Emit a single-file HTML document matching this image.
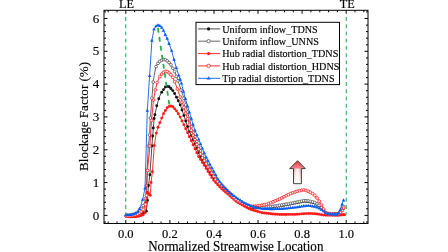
<!DOCTYPE html><html><head><meta charset="utf-8"><style>html,body{margin:0;padding:0;background:#fff;width:448px;height:252px;overflow:hidden}svg{display:block}</style></head><body><svg width="448" height="252" viewBox="0 0 448 252">
<defs><linearGradient id="ag" x1="0" y1="0" x2="0" y2="1"><stop offset="0" stop-color="#e63a44"/><stop offset="0.33" stop-color="#f0858b"/><stop offset="0.65" stop-color="#f8c4c6"/><stop offset="1" stop-color="#fff4f4"/></linearGradient><linearGradient id="ah" x1="0" y1="0" x2="1" y2="0"><stop offset="0" stop-color="#fff" stop-opacity="0.1"/><stop offset="0.5" stop-color="#fff" stop-opacity="1"/><stop offset="1" stop-color="#fff" stop-opacity="0.1"/></linearGradient></defs>
<rect width="448" height="252" fill="#fff"/>
<line x1="125.7" y1="17.0" x2="125.7" y2="214.5" stroke="#4cbb7a" stroke-width="1.3" stroke-dasharray="3.9,3.33"/>
<line x1="346.3" y1="17.0" x2="346.3" y2="214.5" stroke="#4cbb7a" stroke-width="1.3" stroke-dasharray="3.9,3.33"/>
<polyline points="126.2,215.7 132.0,215.5 137.0,214.7 141.0,213.3 144.0,212.3 146.3,211.2 147.5,200.5 148.5,185.5 149.9,174.8 151.9,146.0 152.3,141.6 152.7,136.0 153.3,128.0 154.1,118.5 154.9,114.7 156.8,105.8 158.8,98.7 160.8,93.5 163.2,90.3 164.7,87.3 166.3,86.5 168.3,86.2 169.9,87.4 171.9,89.5 173.9,91.9 175.6,95.5 178.2,100.5 179.4,103.2 180.9,106.6 188.5,129.2 200.3,156.3 215.0,180.0 237.0,199.5 250.0,207.5 258.0,207.9 268.0,207.6 280.0,205.9 292.0,203.7 304.0,201.3 308.0,201.5 314.7,203.0 319.1,205.8 322.5,209.5 326.0,213.3 330.0,214.1 338.0,214.1 341.0,212.0 343.6,208.5" fill="none" stroke="#383838" stroke-width="0.9" stroke-linejoin="round"/>
<g fill="#111111"><circle cx="126.2" cy="215.7" r="1.45"/><circle cx="127.8" cy="215.6" r="1.45"/><circle cx="129.4" cy="215.6" r="1.45"/><circle cx="131.0" cy="215.5" r="1.45"/><circle cx="132.6" cy="215.4" r="1.45"/><circle cx="134.2" cy="215.1" r="1.45"/><circle cx="135.8" cy="214.9" r="1.45"/><circle cx="137.6" cy="214.5" r="1.45"/><circle cx="139.5" cy="213.8" r="1.45"/><circle cx="141.3" cy="213.2" r="1.45"/><circle cx="143.2" cy="212.6" r="1.45"/><circle cx="146.3" cy="211.2" r="1.45"/><circle cx="147.5" cy="200.5" r="1.45"/><circle cx="148.5" cy="185.5" r="1.45"/><circle cx="149.9" cy="174.8" r="1.45"/><circle cx="151.9" cy="146.0" r="1.45"/><circle cx="152.7" cy="136.0" r="1.45"/><circle cx="153.3" cy="128.0" r="1.45"/><circle cx="154.1" cy="118.5" r="1.45"/><circle cx="154.9" cy="114.7" r="1.45"/><circle cx="156.8" cy="105.8" r="1.45"/><circle cx="158.8" cy="98.7" r="1.45"/><circle cx="161.7" cy="92.3" r="1.45"/><circle cx="163.5" cy="89.6" r="1.45"/><circle cx="165.4" cy="87.0" r="1.45"/><circle cx="167.2" cy="86.4" r="1.45"/><circle cx="169.1" cy="86.8" r="1.45"/><circle cx="170.9" cy="88.5" r="1.45"/><circle cx="172.8" cy="90.6" r="1.45"/><circle cx="174.6" cy="93.5" r="1.45"/><circle cx="176.5" cy="97.2" r="1.45"/><circle cx="178.3" cy="100.8" r="1.45"/><circle cx="180.2" cy="105.0" r="1.45"/><circle cx="182.0" cy="110.0" r="1.45"/><circle cx="183.9" cy="115.5" r="1.45"/><circle cx="185.7" cy="121.0" r="1.45"/><circle cx="187.6" cy="126.5" r="1.45"/><circle cx="189.4" cy="131.4" r="1.45"/><circle cx="191.3" cy="135.6" r="1.45"/><circle cx="193.1" cy="139.9" r="1.45"/><circle cx="195.0" cy="144.1" r="1.45"/><circle cx="196.8" cy="148.4" r="1.45"/><circle cx="198.7" cy="152.6" r="1.45"/><circle cx="200.5" cy="156.7" r="1.45"/><circle cx="202.4" cy="159.7" r="1.45"/><circle cx="204.3" cy="162.7" r="1.45"/><circle cx="206.2" cy="165.7" r="1.45"/><circle cx="208.0" cy="168.8" r="1.45"/><circle cx="209.9" cy="171.9" r="1.45"/><circle cx="211.9" cy="175.0" r="1.45"/><circle cx="213.8" cy="178.1" r="1.45"/><circle cx="215.7" cy="180.7" r="1.45"/><circle cx="217.7" cy="182.4" r="1.45"/><circle cx="219.7" cy="184.2" r="1.45"/><circle cx="221.7" cy="185.9" r="1.45"/><circle cx="223.7" cy="187.7" r="1.45"/><circle cx="225.7" cy="189.5" r="1.45"/><circle cx="227.7" cy="191.3" r="1.45"/><circle cx="229.8" cy="193.1" r="1.45"/><circle cx="231.8" cy="194.9" r="1.45"/><circle cx="233.9" cy="196.7" r="1.45"/><circle cx="236.0" cy="198.6" r="1.45"/><circle cx="238.1" cy="200.2" r="1.45"/><circle cx="240.2" cy="201.5" r="1.45"/><circle cx="242.3" cy="202.8" r="1.45"/><circle cx="244.5" cy="204.1" r="1.45"/><circle cx="246.6" cy="205.4" r="1.45"/><circle cx="248.8" cy="206.8" r="1.45"/><circle cx="251.0" cy="207.6" r="1.45"/><circle cx="253.2" cy="207.7" r="1.45"/><circle cx="255.4" cy="207.8" r="1.45"/><circle cx="257.6" cy="207.9" r="1.45"/><circle cx="259.8" cy="207.8" r="1.45"/><circle cx="262.0" cy="207.8" r="1.45"/><circle cx="264.2" cy="207.7" r="1.45"/><circle cx="266.4" cy="207.6" r="1.45"/><circle cx="268.6" cy="207.5" r="1.45"/><circle cx="270.8" cy="207.2" r="1.45"/><circle cx="273.0" cy="206.9" r="1.45"/><circle cx="275.2" cy="206.6" r="1.45"/><circle cx="277.4" cy="206.3" r="1.45"/><circle cx="279.6" cy="206.0" r="1.45"/><circle cx="281.8" cy="205.6" r="1.45"/><circle cx="284.0" cy="205.2" r="1.45"/><circle cx="286.2" cy="204.8" r="1.45"/><circle cx="288.4" cy="204.4" r="1.45"/><circle cx="290.6" cy="204.0" r="1.45"/><circle cx="292.8" cy="203.5" r="1.45"/><circle cx="295.0" cy="203.1" r="1.45"/><circle cx="297.2" cy="202.7" r="1.45"/><circle cx="299.4" cy="202.2" r="1.45"/><circle cx="301.6" cy="201.8" r="1.45"/><circle cx="303.8" cy="201.3" r="1.45"/><circle cx="306.0" cy="201.4" r="1.45"/><circle cx="308.2" cy="201.5" r="1.45"/><circle cx="310.4" cy="202.0" r="1.45"/><circle cx="312.6" cy="202.5" r="1.45"/><circle cx="314.8" cy="203.1" r="1.45"/><circle cx="317.0" cy="204.5" r="1.45"/><circle cx="319.2" cy="205.9" r="1.45"/><circle cx="321.4" cy="208.3" r="1.45"/><circle cx="323.6" cy="210.7" r="1.45"/><circle cx="325.8" cy="213.1" r="1.45"/><circle cx="328.0" cy="213.7" r="1.45"/><circle cx="330.2" cy="214.1" r="1.45"/><circle cx="332.4" cy="214.1" r="1.45"/><circle cx="334.0" cy="214.1" r="1.45"/><circle cx="335.6" cy="214.1" r="1.45"/><circle cx="337.2" cy="214.1" r="1.45"/><circle cx="338.8" cy="213.5" r="1.45"/><circle cx="340.4" cy="212.4" r="1.45"/><circle cx="342.0" cy="210.6" r="1.45"/><circle cx="343.6" cy="208.5" r="1.45"/></g>
<polyline points="126.2,215.5 131.0,215.1 135.0,214.1 138.0,212.7 140.5,210.0 142.5,207.0 144.2,203.5 145.5,198.5 146.5,185.5 147.1,170.5 148.3,146.0 149.6,135.0 150.4,118.0 151.9,98.2 153.2,82.0 154.2,75.6 155.4,69.0 156.5,65.5 158.1,63.1 159.8,61.3 161.9,60.1 164.0,59.3 166.1,60.1 167.9,61.3 169.4,62.9 170.8,64.5 172.0,66.7 173.2,69.0 174.7,71.5 178.1,80.8 181.0,90.0 184.5,100.0 192.0,129.2 202.7,156.3 216.5,180.0 237.0,200.5 250.0,207.0 258.0,207.3 268.0,207.0 280.0,205.3 292.0,203.1 304.0,200.7 308.0,200.9 314.7,202.4 319.1,205.2 322.5,209.0 326.0,212.8 330.0,213.9 338.0,213.9 340.5,211.5 342.5,208.0 343.6,206.5" fill="none" stroke="#555555" stroke-width="0.9" stroke-linejoin="round"/>
<g fill="#fff" stroke="#555555" stroke-width="0.8"><circle cx="126.2" cy="215.5" r="1.4"/><circle cx="127.8" cy="215.4" r="1.4"/><circle cx="129.4" cy="215.2" r="1.4"/><circle cx="131.0" cy="215.1" r="1.4"/><circle cx="132.6" cy="214.7" r="1.4"/><circle cx="134.2" cy="214.3" r="1.4"/><circle cx="135.8" cy="213.7" r="1.4"/><circle cx="137.6" cy="212.9" r="1.4"/><circle cx="139.5" cy="211.1" r="1.4"/><circle cx="141.3" cy="208.7" r="1.4"/><circle cx="143.2" cy="205.6" r="1.4"/><circle cx="145.5" cy="198.5" r="1.4"/><circle cx="146.5" cy="185.5" r="1.4"/><circle cx="147.1" cy="170.5" r="1.4"/><circle cx="148.3" cy="146.0" r="1.4"/><circle cx="149.6" cy="135.0" r="1.4"/><circle cx="150.4" cy="118.0" r="1.4"/><circle cx="151.9" cy="98.2" r="1.4"/><circle cx="153.2" cy="82.0" r="1.4"/><circle cx="156.1" cy="66.6" r="1.4"/><circle cx="158.0" cy="63.3" r="1.4"/><circle cx="159.8" cy="61.3" r="1.4"/><circle cx="161.7" cy="60.2" r="1.4"/><circle cx="163.5" cy="59.5" r="1.4"/><circle cx="165.4" cy="59.8" r="1.4"/><circle cx="167.2" cy="60.9" r="1.4"/><circle cx="169.1" cy="62.6" r="1.4"/><circle cx="170.9" cy="64.8" r="1.4"/><circle cx="172.8" cy="68.2" r="1.4"/><circle cx="174.6" cy="71.4" r="1.4"/><circle cx="176.5" cy="76.4" r="1.4"/><circle cx="178.1" cy="80.8" r="1.4"/><circle cx="181.0" cy="90.0" r="1.4"/><circle cx="183.9" cy="98.3" r="1.4"/><circle cx="185.7" cy="104.9" r="1.4"/><circle cx="187.6" cy="112.1" r="1.4"/><circle cx="189.4" cy="119.3" r="1.4"/><circle cx="191.3" cy="126.5" r="1.4"/><circle cx="193.1" cy="132.1" r="1.4"/><circle cx="195.0" cy="136.8" r="1.4"/><circle cx="196.8" cy="141.5" r="1.4"/><circle cx="198.7" cy="146.2" r="1.4"/><circle cx="200.5" cy="150.9" r="1.4"/><circle cx="202.4" cy="155.5" r="1.4"/><circle cx="204.3" cy="159.0" r="1.4"/><circle cx="206.2" cy="162.2" r="1.4"/><circle cx="208.0" cy="165.5" r="1.4"/><circle cx="209.9" cy="168.8" r="1.4"/><circle cx="211.9" cy="172.0" r="1.4"/><circle cx="213.8" cy="175.4" r="1.4"/><circle cx="215.7" cy="178.7" r="1.4"/><circle cx="217.7" cy="181.2" r="1.4"/><circle cx="219.7" cy="183.2" r="1.4"/><circle cx="221.7" cy="185.2" r="1.4"/><circle cx="223.7" cy="187.2" r="1.4"/><circle cx="225.7" cy="189.2" r="1.4"/><circle cx="227.7" cy="191.2" r="1.4"/><circle cx="229.8" cy="193.3" r="1.4"/><circle cx="231.8" cy="195.3" r="1.4"/><circle cx="233.9" cy="197.4" r="1.4"/><circle cx="236.0" cy="199.5" r="1.4"/><circle cx="238.1" cy="201.0" r="1.4"/><circle cx="240.2" cy="202.1" r="1.4"/><circle cx="242.3" cy="203.2" r="1.4"/><circle cx="244.5" cy="204.2" r="1.4"/><circle cx="246.6" cy="205.3" r="1.4"/><circle cx="248.8" cy="206.4" r="1.4"/><circle cx="251.0" cy="207.0" r="1.4"/><circle cx="253.2" cy="207.1" r="1.4"/><circle cx="255.4" cy="207.2" r="1.4"/><circle cx="257.6" cy="207.3" r="1.4"/><circle cx="259.8" cy="207.2" r="1.4"/><circle cx="262.0" cy="207.2" r="1.4"/><circle cx="264.2" cy="207.1" r="1.4"/><circle cx="266.4" cy="207.0" r="1.4"/><circle cx="268.6" cy="206.9" r="1.4"/><circle cx="270.8" cy="206.6" r="1.4"/><circle cx="273.0" cy="206.3" r="1.4"/><circle cx="275.2" cy="206.0" r="1.4"/><circle cx="277.4" cy="205.7" r="1.4"/><circle cx="279.6" cy="205.4" r="1.4"/><circle cx="281.8" cy="205.0" r="1.4"/><circle cx="284.0" cy="204.6" r="1.4"/><circle cx="286.2" cy="204.2" r="1.4"/><circle cx="288.4" cy="203.8" r="1.4"/><circle cx="290.6" cy="203.4" r="1.4"/><circle cx="292.8" cy="202.9" r="1.4"/><circle cx="295.0" cy="202.5" r="1.4"/><circle cx="297.2" cy="202.1" r="1.4"/><circle cx="299.4" cy="201.6" r="1.4"/><circle cx="301.6" cy="201.2" r="1.4"/><circle cx="303.8" cy="200.7" r="1.4"/><circle cx="306.0" cy="200.8" r="1.4"/><circle cx="308.2" cy="200.9" r="1.4"/><circle cx="310.4" cy="201.4" r="1.4"/><circle cx="312.6" cy="201.9" r="1.4"/><circle cx="314.8" cy="202.5" r="1.4"/><circle cx="317.0" cy="203.9" r="1.4"/><circle cx="319.2" cy="205.3" r="1.4"/><circle cx="321.4" cy="207.8" r="1.4"/><circle cx="323.6" cy="210.2" r="1.4"/><circle cx="325.8" cy="212.6" r="1.4"/><circle cx="328.0" cy="213.4" r="1.4"/><circle cx="330.2" cy="213.9" r="1.4"/><circle cx="332.4" cy="213.9" r="1.4"/><circle cx="334.0" cy="213.9" r="1.4"/><circle cx="335.6" cy="213.9" r="1.4"/><circle cx="337.2" cy="213.9" r="1.4"/><circle cx="338.8" cy="213.1" r="1.4"/><circle cx="340.4" cy="211.6" r="1.4"/><circle cx="342.0" cy="208.9" r="1.4"/><circle cx="343.6" cy="206.5" r="1.4"/></g>
<polyline points="126.2,216.5 131.1,216.9 135.9,216.7 139.5,216.1 143.0,214.9 145.4,212.5 146.0,208.4 146.6,202.4 147.3,192.3 150.2,195.2 151.1,182.5 152.4,171.8 154.3,145.5 156.3,133.1 158.3,126.3 160.7,120.8 162.8,115.1 165.1,110.9 167.5,107.3 169.9,105.9 172.1,106.1 174.2,108.1 176.4,110.8 178.3,113.7 180.4,117.5 183.1,123.0 186.1,129.4 198.5,156.3 213.3,179.7 217.6,184.7 222.0,189.0 237.0,202.1 245.8,206.9 250.0,209.3 262.0,212.7 274.0,214.1 280.0,214.5 295.0,214.4 302.0,213.9 310.0,213.4 318.0,214.1 325.0,215.3 338.0,215.3 341.9,214.8 344.5,214.8" fill="none" stroke="#ff1a1a" stroke-width="0.9" stroke-linejoin="round"/>
<g fill="#ff1a1a"><circle cx="126.2" cy="216.5" r="1.45"/><circle cx="127.8" cy="216.6" r="1.45"/><circle cx="129.4" cy="216.8" r="1.45"/><circle cx="131.0" cy="216.9" r="1.45"/><circle cx="132.6" cy="216.8" r="1.45"/><circle cx="134.2" cy="216.8" r="1.45"/><circle cx="135.8" cy="216.7" r="1.45"/><circle cx="137.6" cy="216.4" r="1.45"/><circle cx="139.5" cy="216.1" r="1.45"/><circle cx="141.3" cy="215.5" r="1.45"/><circle cx="143.2" cy="214.7" r="1.45"/><circle cx="145.0" cy="212.9" r="1.45"/><circle cx="146.6" cy="202.4" r="1.45"/><circle cx="147.3" cy="192.3" r="1.45"/><circle cx="148.7" cy="193.7" r="1.45"/><circle cx="150.2" cy="195.2" r="1.45"/><circle cx="151.1" cy="182.5" r="1.45"/><circle cx="152.4" cy="171.8" r="1.45"/><circle cx="154.3" cy="145.5" r="1.45"/><circle cx="156.3" cy="133.1" r="1.45"/><circle cx="158.0" cy="127.3" r="1.45"/><circle cx="159.8" cy="122.7" r="1.45"/><circle cx="161.7" cy="118.1" r="1.45"/><circle cx="163.5" cy="113.7" r="1.45"/><circle cx="165.4" cy="110.5" r="1.45"/><circle cx="167.2" cy="107.7" r="1.45"/><circle cx="169.1" cy="106.4" r="1.45"/><circle cx="170.9" cy="106.0" r="1.45"/><circle cx="172.8" cy="106.8" r="1.45"/><circle cx="174.6" cy="108.7" r="1.45"/><circle cx="176.5" cy="111.0" r="1.45"/><circle cx="178.3" cy="113.8" r="1.45"/><circle cx="180.2" cy="117.1" r="1.45"/><circle cx="182.0" cy="120.9" r="1.45"/><circle cx="183.9" cy="124.7" r="1.45"/><circle cx="185.7" cy="128.7" r="1.45"/><circle cx="187.6" cy="132.7" r="1.45"/><circle cx="189.4" cy="136.7" r="1.45"/><circle cx="191.3" cy="140.7" r="1.45"/><circle cx="193.1" cy="144.7" r="1.45"/><circle cx="195.0" cy="148.7" r="1.45"/><circle cx="196.8" cy="152.7" r="1.45"/><circle cx="198.7" cy="156.6" r="1.45"/><circle cx="200.5" cy="159.5" r="1.45"/><circle cx="202.4" cy="162.5" r="1.45"/><circle cx="204.3" cy="165.4" r="1.45"/><circle cx="206.2" cy="168.4" r="1.45"/><circle cx="208.0" cy="171.4" r="1.45"/><circle cx="209.9" cy="174.4" r="1.45"/><circle cx="211.9" cy="177.4" r="1.45"/><circle cx="213.8" cy="180.3" r="1.45"/><circle cx="215.7" cy="182.5" r="1.45"/><circle cx="217.7" cy="184.8" r="1.45"/><circle cx="219.7" cy="186.7" r="1.45"/><circle cx="221.7" cy="188.7" r="1.45"/><circle cx="223.7" cy="190.5" r="1.45"/><circle cx="225.7" cy="192.2" r="1.45"/><circle cx="227.7" cy="194.0" r="1.45"/><circle cx="229.8" cy="195.8" r="1.45"/><circle cx="231.8" cy="197.6" r="1.45"/><circle cx="233.9" cy="199.4" r="1.45"/><circle cx="236.0" cy="201.2" r="1.45"/><circle cx="238.1" cy="202.7" r="1.45"/><circle cx="240.2" cy="203.8" r="1.45"/><circle cx="242.3" cy="205.0" r="1.45"/><circle cx="244.5" cy="206.2" r="1.45"/><circle cx="246.6" cy="207.4" r="1.45"/><circle cx="248.8" cy="208.6" r="1.45"/><circle cx="251.0" cy="209.6" r="1.45"/><circle cx="253.2" cy="210.2" r="1.45"/><circle cx="255.4" cy="210.8" r="1.45"/><circle cx="257.6" cy="211.5" r="1.45"/><circle cx="259.8" cy="212.1" r="1.45"/><circle cx="262.0" cy="212.7" r="1.45"/><circle cx="264.2" cy="213.0" r="1.45"/><circle cx="266.4" cy="213.2" r="1.45"/><circle cx="268.6" cy="213.5" r="1.45"/><circle cx="270.8" cy="213.7" r="1.45"/><circle cx="273.0" cy="214.0" r="1.45"/><circle cx="275.2" cy="214.2" r="1.45"/><circle cx="277.4" cy="214.3" r="1.45"/><circle cx="279.6" cy="214.5" r="1.45"/><circle cx="281.8" cy="214.5" r="1.45"/><circle cx="284.0" cy="214.5" r="1.45"/><circle cx="286.2" cy="214.5" r="1.45"/><circle cx="288.4" cy="214.4" r="1.45"/><circle cx="290.6" cy="214.4" r="1.45"/><circle cx="292.8" cy="214.4" r="1.45"/><circle cx="295.0" cy="214.4" r="1.45"/><circle cx="297.2" cy="214.2" r="1.45"/><circle cx="299.4" cy="214.1" r="1.45"/><circle cx="301.6" cy="213.9" r="1.45"/><circle cx="303.8" cy="213.8" r="1.45"/><circle cx="306.0" cy="213.6" r="1.45"/><circle cx="308.2" cy="213.5" r="1.45"/><circle cx="310.4" cy="213.4" r="1.45"/><circle cx="312.6" cy="213.6" r="1.45"/><circle cx="314.8" cy="213.8" r="1.45"/><circle cx="317.0" cy="214.0" r="1.45"/><circle cx="319.2" cy="214.3" r="1.45"/><circle cx="321.4" cy="214.7" r="1.45"/><circle cx="323.6" cy="215.1" r="1.45"/><circle cx="325.8" cy="215.3" r="1.45"/><circle cx="328.0" cy="215.3" r="1.45"/><circle cx="330.2" cy="215.3" r="1.45"/><circle cx="332.4" cy="215.3" r="1.45"/><circle cx="334.0" cy="215.3" r="1.45"/><circle cx="335.6" cy="215.3" r="1.45"/><circle cx="337.2" cy="215.3" r="1.45"/><circle cx="338.8" cy="215.2" r="1.45"/><circle cx="340.4" cy="215.0" r="1.45"/><circle cx="342.0" cy="214.8" r="1.45"/><circle cx="343.6" cy="214.8" r="1.45"/><circle cx="344.5" cy="214.8" r="1.45"/></g>
<polyline points="126.2,216.0 131.0,215.7 135.0,215.0 138.0,214.0 140.0,213.0 142.0,211.0 144.0,208.5 145.5,204.5 146.5,195.5 147.5,170.5 149.9,146.0 151.5,120.4 153.5,100.0 155.4,89.9 157.2,82.5 158.9,78.5 160.1,76.2 161.9,73.8 163.7,72.2 165.5,71.4 167.3,71.6 169.0,72.8 170.8,74.6 172.6,76.8 174.0,80.1 177.4,88.9 180.1,97.0 182.8,104.0 190.9,129.2 201.5,156.3 216.0,180.0 237.0,200.5 250.0,206.5 259.5,205.8 268.0,203.9 280.0,198.9 286.0,195.7 292.0,193.0 298.0,191.0 303.8,189.9 308.0,191.1 313.6,194.1 318.0,199.1 321.3,204.7 324.1,209.9 326.0,213.5 330.0,214.1 338.0,214.1 341.0,212.0 343.6,208.0" fill="none" stroke="#ff1a1a" stroke-width="0.9" stroke-linejoin="round"/>
<g fill="#fff" stroke="#ff1a1a" stroke-width="0.8"><circle cx="126.2" cy="216.0" r="1.4"/><circle cx="127.8" cy="215.9" r="1.4"/><circle cx="129.4" cy="215.8" r="1.4"/><circle cx="131.0" cy="215.7" r="1.4"/><circle cx="132.6" cy="215.4" r="1.4"/><circle cx="134.2" cy="215.1" r="1.4"/><circle cx="135.8" cy="214.7" r="1.4"/><circle cx="137.6" cy="214.1" r="1.4"/><circle cx="139.5" cy="213.2" r="1.4"/><circle cx="141.3" cy="211.7" r="1.4"/><circle cx="143.2" cy="209.5" r="1.4"/><circle cx="145.5" cy="204.5" r="1.4"/><circle cx="146.5" cy="195.5" r="1.4"/><circle cx="147.5" cy="170.5" r="1.4"/><circle cx="149.9" cy="146.0" r="1.4"/><circle cx="151.5" cy="120.4" r="1.4"/><circle cx="153.5" cy="100.0" r="1.4"/><circle cx="155.4" cy="89.9" r="1.4"/><circle cx="157.2" cy="82.5" r="1.4"/><circle cx="159.8" cy="76.7" r="1.4"/><circle cx="161.7" cy="74.1" r="1.4"/><circle cx="163.5" cy="72.3" r="1.4"/><circle cx="165.4" cy="71.4" r="1.4"/><circle cx="167.2" cy="71.6" r="1.4"/><circle cx="169.1" cy="72.9" r="1.4"/><circle cx="170.9" cy="74.8" r="1.4"/><circle cx="172.8" cy="77.3" r="1.4"/><circle cx="174.6" cy="81.8" r="1.4"/><circle cx="177.4" cy="88.9" r="1.4"/><circle cx="180.1" cy="97.0" r="1.4"/><circle cx="182.0" cy="102.1" r="1.4"/><circle cx="183.9" cy="107.4" r="1.4"/><circle cx="185.7" cy="113.2" r="1.4"/><circle cx="187.6" cy="118.9" r="1.4"/><circle cx="189.4" cy="124.7" r="1.4"/><circle cx="191.3" cy="130.2" r="1.4"/><circle cx="193.1" cy="135.0" r="1.4"/><circle cx="195.0" cy="139.7" r="1.4"/><circle cx="196.8" cy="144.4" r="1.4"/><circle cx="198.7" cy="149.1" r="1.4"/><circle cx="200.5" cy="153.9" r="1.4"/><circle cx="202.4" cy="157.8" r="1.4"/><circle cx="204.3" cy="160.8" r="1.4"/><circle cx="206.2" cy="163.9" r="1.4"/><circle cx="208.0" cy="167.0" r="1.4"/><circle cx="209.9" cy="170.1" r="1.4"/><circle cx="211.9" cy="173.2" r="1.4"/><circle cx="213.8" cy="176.4" r="1.4"/><circle cx="215.7" cy="179.6" r="1.4"/><circle cx="217.7" cy="181.7" r="1.4"/><circle cx="219.7" cy="183.6" r="1.4"/><circle cx="221.7" cy="185.5" r="1.4"/><circle cx="223.7" cy="187.5" r="1.4"/><circle cx="225.7" cy="189.5" r="1.4"/><circle cx="227.7" cy="191.4" r="1.4"/><circle cx="229.8" cy="193.4" r="1.4"/><circle cx="231.8" cy="195.4" r="1.4"/><circle cx="233.9" cy="197.5" r="1.4"/><circle cx="236.0" cy="199.5" r="1.4"/><circle cx="238.1" cy="201.0" r="1.4"/><circle cx="240.2" cy="202.0" r="1.4"/><circle cx="242.3" cy="203.0" r="1.4"/><circle cx="244.5" cy="204.0" r="1.4"/><circle cx="246.6" cy="204.9" r="1.4"/><circle cx="248.8" cy="206.0" r="1.4"/><circle cx="251.0" cy="206.4" r="1.4"/><circle cx="253.2" cy="206.3" r="1.4"/><circle cx="255.4" cy="206.1" r="1.4"/><circle cx="257.6" cy="205.9" r="1.4"/><circle cx="259.8" cy="205.7" r="1.4"/><circle cx="262.0" cy="205.2" r="1.4"/><circle cx="264.2" cy="204.7" r="1.4"/><circle cx="266.4" cy="204.3" r="1.4"/><circle cx="268.6" cy="203.6" r="1.4"/><circle cx="270.8" cy="202.7" r="1.4"/><circle cx="273.0" cy="201.8" r="1.4"/><circle cx="275.2" cy="200.9" r="1.4"/><circle cx="277.4" cy="200.0" r="1.4"/><circle cx="279.6" cy="199.1" r="1.4"/><circle cx="281.8" cy="197.9" r="1.4"/><circle cx="284.0" cy="196.8" r="1.4"/><circle cx="286.2" cy="195.6" r="1.4"/><circle cx="288.4" cy="194.6" r="1.4"/><circle cx="290.6" cy="193.6" r="1.4"/><circle cx="292.8" cy="192.7" r="1.4"/><circle cx="295.0" cy="192.0" r="1.4"/><circle cx="297.2" cy="191.3" r="1.4"/><circle cx="299.4" cy="190.7" r="1.4"/><circle cx="301.6" cy="190.3" r="1.4"/><circle cx="303.8" cy="189.9" r="1.4"/><circle cx="306.0" cy="190.5" r="1.4"/><circle cx="308.2" cy="191.2" r="1.4"/><circle cx="310.4" cy="192.4" r="1.4"/><circle cx="312.6" cy="193.6" r="1.4"/><circle cx="314.8" cy="195.5" r="1.4"/><circle cx="317.0" cy="198.0" r="1.4"/><circle cx="319.2" cy="201.1" r="1.4"/><circle cx="321.4" cy="204.9" r="1.4"/><circle cx="323.6" cy="209.0" r="1.4"/><circle cx="325.8" cy="213.1" r="1.4"/><circle cx="328.0" cy="213.8" r="1.4"/><circle cx="330.2" cy="214.1" r="1.4"/><circle cx="332.4" cy="214.1" r="1.4"/><circle cx="334.0" cy="214.1" r="1.4"/><circle cx="335.6" cy="214.1" r="1.4"/><circle cx="337.2" cy="214.1" r="1.4"/><circle cx="338.8" cy="213.5" r="1.4"/><circle cx="340.4" cy="212.4" r="1.4"/><circle cx="342.0" cy="210.5" r="1.4"/><circle cx="343.6" cy="208.0" r="1.4"/></g>
<polyline points="126.2,215.1 131.7,214.7 134.7,213.7 137.1,212.5 138.9,210.1 140.7,206.0 142.6,199.7 145.0,188.3 147.3,110.7 149.6,76.0 151.9,40.6 154.0,29.2 156.3,26.0 158.5,25.0 160.9,26.5 163.0,29.5 165.1,34.2 167.3,38.8 169.4,44.6 171.6,50.7 174.0,59.6 176.3,68.0 178.8,75.4 181.5,83.5 183.5,91.6 185.5,99.0 186.9,104.0 194.5,129.2 205.6,156.3 218.6,180.3 222.5,185.5 227.0,190.3 231.0,194.0 237.0,198.1 244.0,203.0 252.0,206.3 262.0,208.7 272.0,209.1 280.0,208.9 290.0,208.1 297.0,207.2 304.0,206.1 308.0,205.7 316.0,206.8 322.5,210.3 326.8,213.7 332.0,214.3 337.9,214.3 339.9,211.2 341.5,206.0 342.7,202.1 343.6,200.3" fill="none" stroke="#0b5ef2" stroke-width="0.9" stroke-linejoin="round"/>
<g fill="#0b5ef2"><path d="M126.2,213.1l1.8,3.1h-3.6z"/><path d="M127.8,213.0l1.8,3.1h-3.6z"/><path d="M129.4,212.9l1.8,3.1h-3.6z"/><path d="M131.0,212.8l1.8,3.1h-3.6z"/><path d="M132.6,212.4l1.8,3.1h-3.6z"/><path d="M134.2,211.9l1.8,3.1h-3.6z"/><path d="M135.8,211.2l1.8,3.1h-3.6z"/><path d="M137.6,209.8l1.8,3.1h-3.6z"/><path d="M139.5,206.7l1.8,3.1h-3.6z"/><path d="M142.6,197.7l1.8,3.1h-3.6z"/><path d="M145.0,186.3l1.8,3.1h-3.6z"/><path d="M147.3,108.7l1.8,3.1h-3.6z"/><path d="M149.6,74.0l1.8,3.1h-3.6z"/><path d="M151.9,38.6l1.8,3.1h-3.6z"/><path d="M154.0,27.2l1.8,3.1h-3.6z"/><path d="M156.1,24.2l1.8,3.1h-3.6z"/><path d="M158.0,23.2l1.8,3.1h-3.6z"/><path d="M159.8,23.8l1.8,3.1h-3.6z"/><path d="M161.7,25.6l1.8,3.1h-3.6z"/><path d="M163.5,28.7l1.8,3.1h-3.6z"/><path d="M165.4,32.8l1.8,3.1h-3.6z"/><path d="M167.2,36.7l1.8,3.1h-3.6z"/><path d="M169.1,41.8l1.8,3.1h-3.6z"/><path d="M171.6,48.7l1.8,3.1h-3.6z"/><path d="M174.0,57.6l1.8,3.1h-3.6z"/><path d="M176.3,66.0l1.8,3.1h-3.6z"/><path d="M178.8,73.4l1.8,3.1h-3.6z"/><path d="M180.2,77.6l1.8,3.1h-3.6z"/><path d="M181.5,81.5l1.8,3.1h-3.6z"/><path d="M183.5,89.6l1.8,3.1h-3.6z"/><path d="M185.5,97.0l1.8,3.1h-3.6z"/><path d="M187.6,104.3l1.8,3.1h-3.6z"/><path d="M189.4,110.5l1.8,3.1h-3.6z"/><path d="M191.3,116.6l1.8,3.1h-3.6z"/><path d="M193.1,122.7l1.8,3.1h-3.6z"/><path d="M195.0,128.4l1.8,3.1h-3.6z"/><path d="M196.8,132.9l1.8,3.1h-3.6z"/><path d="M198.7,137.5l1.8,3.1h-3.6z"/><path d="M200.5,142.0l1.8,3.1h-3.6z"/><path d="M202.4,146.5l1.8,3.1h-3.6z"/><path d="M204.3,151.1l1.8,3.1h-3.6z"/><path d="M206.2,155.3l1.8,3.1h-3.6z"/><path d="M208.0,158.8l1.8,3.1h-3.6z"/><path d="M209.9,162.3l1.8,3.1h-3.6z"/><path d="M211.9,165.9l1.8,3.1h-3.6z"/><path d="M213.8,169.4l1.8,3.1h-3.6z"/><path d="M215.7,173.0l1.8,3.1h-3.6z"/><path d="M217.7,176.7l1.8,3.1h-3.6z"/><path d="M219.7,179.7l1.8,3.1h-3.6z"/><path d="M221.7,182.4l1.8,3.1h-3.6z"/><path d="M223.7,184.8l1.8,3.1h-3.6z"/><path d="M225.7,186.9l1.8,3.1h-3.6z"/><path d="M227.7,189.0l1.8,3.1h-3.6z"/><path d="M229.8,190.9l1.8,3.1h-3.6z"/><path d="M231.8,192.6l1.8,3.1h-3.6z"/><path d="M233.9,194.0l1.8,3.1h-3.6z"/><path d="M236.0,195.4l1.8,3.1h-3.6z"/><path d="M238.1,196.9l1.8,3.1h-3.6z"/><path d="M240.2,198.3l1.8,3.1h-3.6z"/><path d="M242.3,199.8l1.8,3.1h-3.6z"/><path d="M244.5,201.2l1.8,3.1h-3.6z"/><path d="M246.6,202.1l1.8,3.1h-3.6z"/><path d="M248.8,203.0l1.8,3.1h-3.6z"/><path d="M251.0,203.9l1.8,3.1h-3.6z"/><path d="M253.2,204.6l1.8,3.1h-3.6z"/><path d="M255.4,205.1l1.8,3.1h-3.6z"/><path d="M257.6,205.6l1.8,3.1h-3.6z"/><path d="M259.8,206.2l1.8,3.1h-3.6z"/><path d="M262.0,206.7l1.8,3.1h-3.6z"/><path d="M264.2,206.8l1.8,3.1h-3.6z"/><path d="M266.4,206.9l1.8,3.1h-3.6z"/><path d="M268.6,207.0l1.8,3.1h-3.6z"/><path d="M270.8,207.1l1.8,3.1h-3.6z"/><path d="M273.0,207.1l1.8,3.1h-3.6z"/><path d="M275.2,207.0l1.8,3.1h-3.6z"/><path d="M277.4,207.0l1.8,3.1h-3.6z"/><path d="M279.6,206.9l1.8,3.1h-3.6z"/><path d="M281.8,206.8l1.8,3.1h-3.6z"/><path d="M284.0,206.6l1.8,3.1h-3.6z"/><path d="M286.2,206.4l1.8,3.1h-3.6z"/><path d="M288.4,206.2l1.8,3.1h-3.6z"/><path d="M290.6,206.0l1.8,3.1h-3.6z"/><path d="M292.8,205.7l1.8,3.1h-3.6z"/><path d="M295.0,205.5l1.8,3.1h-3.6z"/><path d="M297.2,205.2l1.8,3.1h-3.6z"/><path d="M299.4,204.8l1.8,3.1h-3.6z"/><path d="M301.6,204.5l1.8,3.1h-3.6z"/><path d="M303.8,204.1l1.8,3.1h-3.6z"/><path d="M306.0,203.9l1.8,3.1h-3.6z"/><path d="M308.2,203.7l1.8,3.1h-3.6z"/><path d="M310.4,204.0l1.8,3.1h-3.6z"/><path d="M312.6,204.3l1.8,3.1h-3.6z"/><path d="M314.8,204.6l1.8,3.1h-3.6z"/><path d="M317.0,205.3l1.8,3.1h-3.6z"/><path d="M319.2,206.5l1.8,3.1h-3.6z"/><path d="M321.4,207.7l1.8,3.1h-3.6z"/><path d="M323.6,209.2l1.8,3.1h-3.6z"/><path d="M325.8,210.9l1.8,3.1h-3.6z"/><path d="M328.0,211.8l1.8,3.1h-3.6z"/><path d="M330.2,212.1l1.8,3.1h-3.6z"/><path d="M332.4,212.3l1.8,3.1h-3.6z"/><path d="M334.0,212.3l1.8,3.1h-3.6z"/><path d="M335.6,212.3l1.8,3.1h-3.6z"/><path d="M337.2,212.3l1.8,3.1h-3.6z"/><path d="M338.8,210.9l1.8,3.1h-3.6z"/><path d="M340.4,207.6l1.8,3.1h-3.6z"/><path d="M342.0,202.4l1.8,3.1h-3.6z"/><path d="M343.6,198.3l1.8,3.1h-3.6z"/></g>
<line x1="157.9" y1="27.9" x2="169.3" y2="104.4" stroke="#22b14c" stroke-width="1.8" stroke-dasharray="4.7,4.4"/>
<rect x="104.0" y="10.3" width="264.0" height="213.2" fill="none" stroke="#000" stroke-width="1"/>
<path d="M108.2,223.5v-2M108.2,10.3v2M117.0,223.5v-2M117.0,10.3v2M125.8,223.5v-3.5M125.8,10.3v3.5M134.6,223.5v-2M134.6,10.3v2M143.4,223.5v-2M143.4,10.3v2M152.2,223.5v-2M152.2,10.3v2M161.1,223.5v-2M161.1,10.3v2M169.9,223.5v-3.5M169.9,10.3v3.5M178.7,223.5v-2M178.7,10.3v2M187.5,223.5v-2M187.5,10.3v2M196.3,223.5v-2M196.3,10.3v2M205.1,223.5v-2M205.1,10.3v2M214.0,223.5v-3.5M214.0,10.3v3.5M222.8,223.5v-2M222.8,10.3v2M231.6,223.5v-2M231.6,10.3v2M240.4,223.5v-2M240.4,10.3v2M249.2,223.5v-2M249.2,10.3v2M258.0,223.5v-3.5M258.0,10.3v3.5M266.9,223.5v-2M266.9,10.3v2M275.7,223.5v-2M275.7,10.3v2M284.5,223.5v-2M284.5,10.3v2M293.3,223.5v-2M293.3,10.3v2M302.1,223.5v-3.5M302.1,10.3v3.5M310.9,223.5v-2M310.9,10.3v2M319.8,223.5v-2M319.8,10.3v2M328.6,223.5v-2M328.6,10.3v2M337.4,223.5v-2M337.4,10.3v2M346.2,223.5v-3.5M346.2,10.3v3.5M355.0,223.5v-2M355.0,10.3v2M363.8,223.5v-2M363.8,10.3v2M104.0,222.0h2M368.0,222.0h-2M104.0,215.4h3.5M368.0,215.4h-3.5M104.0,208.8h2M368.0,208.8h-2M104.0,202.3h2M368.0,202.3h-2M104.0,195.7h2M368.0,195.7h-2M104.0,189.1h2M368.0,189.1h-2M104.0,182.6h3.5M368.0,182.6h-3.5M104.0,176.0h2M368.0,176.0h-2M104.0,169.5h2M368.0,169.5h-2M104.0,162.9h2M368.0,162.9h-2M104.0,156.3h2M368.0,156.3h-2M104.0,149.8h3.5M368.0,149.8h-3.5M104.0,143.2h2M368.0,143.2h-2M104.0,136.6h2M368.0,136.6h-2M104.0,130.1h2M368.0,130.1h-2M104.0,123.5h2M368.0,123.5h-2M104.0,116.9h3.5M368.0,116.9h-3.5M104.0,110.4h2M368.0,110.4h-2M104.0,103.8h2M368.0,103.8h-2M104.0,97.3h2M368.0,97.3h-2M104.0,90.7h2M368.0,90.7h-2M104.0,84.1h3.5M368.0,84.1h-3.5M104.0,77.6h2M368.0,77.6h-2M104.0,71.0h2M368.0,71.0h-2M104.0,64.4h2M368.0,64.4h-2M104.0,57.9h2M368.0,57.9h-2M104.0,51.3h3.5M368.0,51.3h-3.5M104.0,44.8h2M368.0,44.8h-2M104.0,38.2h2M368.0,38.2h-2M104.0,31.6h2M368.0,31.6h-2M104.0,25.1h2M368.0,25.1h-2M104.0,18.5h3.5M368.0,18.5h-3.5M104.0,11.9h2M368.0,11.9h-2" stroke="#000" stroke-width="1" fill="none"/>
<text x="125.8" y="237.9" font-family="'Liberation Serif', 'Times New Roman', serif" stroke="#000" stroke-width="0.15" font-size="12.5" text-anchor="middle" fill="#000">0.0</text>
<text x="169.9" y="237.9" font-family="'Liberation Serif', 'Times New Roman', serif" stroke="#000" stroke-width="0.15" font-size="12.5" text-anchor="middle" fill="#000">0.2</text>
<text x="214.0" y="237.9" font-family="'Liberation Serif', 'Times New Roman', serif" stroke="#000" stroke-width="0.15" font-size="12.5" text-anchor="middle" fill="#000">0.4</text>
<text x="258.0" y="237.9" font-family="'Liberation Serif', 'Times New Roman', serif" stroke="#000" stroke-width="0.15" font-size="12.5" text-anchor="middle" fill="#000">0.6</text>
<text x="302.1" y="237.9" font-family="'Liberation Serif', 'Times New Roman', serif" stroke="#000" stroke-width="0.15" font-size="12.5" text-anchor="middle" fill="#000">0.8</text>
<text x="346.2" y="237.9" font-family="'Liberation Serif', 'Times New Roman', serif" stroke="#000" stroke-width="0.15" font-size="12.5" text-anchor="middle" fill="#000">1.0</text>
<text x="99.3" y="219.5" font-family="'Liberation Serif', 'Times New Roman', serif" stroke="#000" stroke-width="0.15" font-size="13" text-anchor="end" fill="#000">0</text>
<text x="99.3" y="186.7" font-family="'Liberation Serif', 'Times New Roman', serif" stroke="#000" stroke-width="0.15" font-size="13" text-anchor="end" fill="#000">1</text>
<text x="99.3" y="153.9" font-family="'Liberation Serif', 'Times New Roman', serif" stroke="#000" stroke-width="0.15" font-size="13" text-anchor="end" fill="#000">2</text>
<text x="99.3" y="121.0" font-family="'Liberation Serif', 'Times New Roman', serif" stroke="#000" stroke-width="0.15" font-size="13" text-anchor="end" fill="#000">3</text>
<text x="99.3" y="88.2" font-family="'Liberation Serif', 'Times New Roman', serif" stroke="#000" stroke-width="0.15" font-size="13" text-anchor="end" fill="#000">4</text>
<text x="99.3" y="55.4" font-family="'Liberation Serif', 'Times New Roman', serif" stroke="#000" stroke-width="0.15" font-size="13" text-anchor="end" fill="#000">5</text>
<text x="99.3" y="22.6" font-family="'Liberation Serif', 'Times New Roman', serif" stroke="#000" stroke-width="0.15" font-size="13" text-anchor="end" fill="#000">6</text>
<text transform="translate(235.8,251.3) scale(1,1.07)" font-family="'Liberation Serif', 'Times New Roman', serif" stroke="#000" stroke-width="0.15" font-size="13.05" text-anchor="middle" fill="#000">Normalized Streamwise Location</text>
<text transform="translate(87.8,116.4) rotate(-90)" font-family="'Liberation Serif', 'Times New Roman', serif" stroke="#000" stroke-width="0.15" font-size="13.1" text-anchor="middle" fill="#000">Blockage Factor (%)</text>
<text x="126.6" y="8.0" font-family="'Liberation Serif', 'Times New Roman', serif" stroke="#000" stroke-width="0.15" font-size="12.3" text-anchor="middle" fill="#000">LE</text>
<text x="347.2" y="8.0" font-family="'Liberation Serif', 'Times New Roman', serif" stroke="#000" stroke-width="0.15" font-size="12.3" text-anchor="middle" fill="#000">TE</text>
<rect x="196.0" y="22.3" width="143.5" height="62.3" fill="#fff" stroke="#000" stroke-width="1"/>
<line x1="198" y1="28.9" x2="220.2" y2="28.9" stroke="#383838" stroke-width="0.9"/>
<circle cx="208.6" cy="28.9" r="1.6" fill="#111111"/>
<text transform="translate(222.3,32.6) scale(1,1.05)" font-family="'Liberation Serif', 'Times New Roman', serif" stroke="#000" stroke-width="0.15" font-size="10.15" fill="#000">Uniform inflow_TDNS</text>
<line x1="198" y1="41.2" x2="220.2" y2="41.2" stroke="#555555" stroke-width="0.9"/>
<circle cx="208.6" cy="41.2" r="1.7" fill="#fff" stroke="#555555" stroke-width="0.8"/>
<text transform="translate(222.3,45.0) scale(1,1.05)" font-family="'Liberation Serif', 'Times New Roman', serif" stroke="#000" stroke-width="0.15" font-size="10.15" fill="#000">Uniform inflow_UNNS</text>
<line x1="198" y1="53.6" x2="220.2" y2="53.6" stroke="#ff1a1a" stroke-width="0.9"/>
<circle cx="208.6" cy="53.6" r="1.6" fill="#ff1a1a"/>
<text transform="translate(222.3,57.3) scale(1,1.05)" font-family="'Liberation Serif', 'Times New Roman', serif" stroke="#000" stroke-width="0.15" font-size="10.15" fill="#000">Hub radial distortion_TDNS</text>
<line x1="198" y1="65.9" x2="220.2" y2="65.9" stroke="#ff1a1a" stroke-width="0.9"/>
<circle cx="208.6" cy="65.9" r="1.7" fill="#fff" stroke="#ff1a1a" stroke-width="0.8"/>
<text transform="translate(222.3,69.6) scale(1,1.05)" font-family="'Liberation Serif', 'Times New Roman', serif" stroke="#000" stroke-width="0.15" font-size="10.15" fill="#000">Hub radial distortion_HDNS</text>
<line x1="198" y1="78.3" x2="220.2" y2="78.3" stroke="#0b5ef2" stroke-width="0.9"/>
<path d="M208.6,76.2l1.9,3.2h-3.8z" fill="#0b5ef2"/>
<text transform="translate(222.3,82.0) scale(1,1.05)" font-family="'Liberation Serif', 'Times New Roman', serif" stroke="#000" stroke-width="0.15" font-size="10.15" fill="#000">Tip radial distortion_TDNS</text>
<path d="M297.5,160.7 L305.3,168.6 L301.4,168.6 L301.4,183.7 L293.5,183.7 L293.5,168.6 L289.7,168.6 Z" fill="url(#ag)"/><rect x="293.5" y="168.6" width="7.9" height="15.1" fill="url(#ah)"/><path d="M297.5,160.7 L305.3,168.6 L301.4,168.6 L301.4,183.7 L293.5,183.7 L293.5,168.6 L289.7,168.6 Z" fill="none" stroke="#222" stroke-width="0.85" stroke-linejoin="miter"/>
</svg></body></html>
